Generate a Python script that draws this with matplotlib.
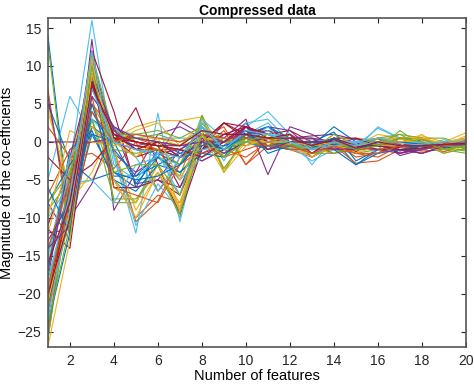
import numpy as np
import matplotlib
matplotlib.use('Agg')
import matplotlib.pyplot as plt

plt.rcParams['font.family'] = ['Liberation Sans', 'DejaVu Sans']

# Number of features on the x axis
features = list(range(1, 21))

# Coefficient curves (one list per curve)
s01 = [-26, -5, 3, 1, 0, -0.5, -1, -2, -0.5, 1, 0, -0.5, -0.8, 0.3, -3, -1, -0.5, -1, -0.5, -0.3]
s02 = [-20, -7, 9, -5, -10, -7, -8, -1, 1.5, -3, -0.5, -1, -2, -0.5, -2.8, -2.5, -1, -1.2, -1, -0.5]
s03 = [-15, -4, 10, 0.5, 2, 2.8, 2.8, 3.3, -4, 1, 0.5, -1, 0.5, 0, 0.5, 0.3, 0.5, 0.8, 0, 1.2]
s04 = [-12, -11.5, 13.5, -9, -4, -2, 2.7, 1, 0.5, 3, -4.3, 2, 1, -0.5, 0.5, -0.3, -1.5, -0.5, -0.8, -0.5]
s05 = [-18, -9, 11, -8, -8, -3, -10, 3.5, -2, 0.5, 1.5, 0, -1.5, -1, -1.5, -1, 1.5, -0.5, -1, -1.5]
s06 = [-24, -3, 16, -2, -12, 3.8, -10.5, 1, -1, 2, 4, 1, -3, 0.5, -1, 2, 0.5, -0.5, 0, 0.5]
s07 = [-23, -6, 12, 4, -6, -5, -7, 0, 2.5, 1, 1.5, 0.5, -0.5, 0.5, -1, -0.5, 0, -0.2, -0.5, 0.2]

s08 = [14, -10, 1, -4.5, -4.5, -1.5, -3, 1, 0, 0.5, -1, 0, -0.5, 2, 0, 0.5, -0.5, 0.3, -0.3, 0.5]
s09 = [7, -12, 2, -1, -10.5, -7.8, -2, 0.5, 2, -3, 0.5, 1, -2, 0, -2, -1.5, 0.5, -0.5, -1.3, -0.3]
s10 = [5, -8, -4, 2, -2, 0, -9, 2.5, -1, 1.5, -0.5, 0.5, 0.3, 0.2, -0.5, 1, 0.5, 0.5, -0.5, 0.8]
s11 = [-8, -13, 8, -1.5, -4, 1, 2, 0.5, 0, 2.5, -1, 0.5, 0.8, 1, 0.3, 0, -0.5, -0.3, -0.5, 0]
s12 = [13, -11, 3, -5, -8, -2, -4.5, 3.5, -4, 1, 0.5, -0.5, -1, 0.5, -1, 0, 0, -0.5, -0.8, -1.2]
s13 = [-5, 6, 1, -1.5, -11, -5.5, -9, 2, -2.5, 2.5, 3, 0, -2, 0, -0.5, 1.8, 0.5, 0, -0.3, 0]
s14 = [-11, -3, 7.5, 0, 4.5, -3, -9.5, -1, 2.5, 0.5, 2, 0, -0.5, 0.5, -1.3, 0.5, -0.5, -0.5, 0, -0.3]

s15 = [5, -2.5, -5, -4, -6, -1, -1, 0.5, -1.5, 0, -0.5, -1, 0, 1.3, -2.5, -1, -1, -1, -0.5, 0]
s16 = [-17, -4, 5, 1.5, 0.5, -0.5, -1, -2.5, -1, -2, 0, 0.5, -2, -0.5, -1.5, -2, -0.5, 0, -1, 0]
s17 = [-16, -3, 10, -6, -8, -3, -9, 3, -3.5, 0, 1, -1, -1.5, 0.5, -1.5, 0.5, 0.5, -0.5, -0.5, -0.2]
s18 = [-23, -5, 11, 0.5, -0.5, 0, -2, -1.5, -0.5, 1.5, -1, 1, -0.5, 0.2, -0.3, 0.5, -1.8, -1, -0.3, -0.5]
s19 = [-26, -7, 11.5, 1, 0.5, 1, 0, 1.5, -3.5, 0.5, 0, -0.8, -0.5, -0.8, -1, 0, 1, -0.5, -1, -1]
s20 = [-19, -6, 8, 1.5, 1, 0.5, 0.5, 0.5, -1, 1, 2.5, -0.5, -2.5, -1, -1, 0, 0, -0.5, 0.3, -0.5]
s21 = [-21, -5, 7, 2, 0, -0.5, -6, -0.5, 1, 2, 1, 1.5, 0, -0.5, -1, 0, -1.5, -0.8, -0.2, -0.5]

s22 = [-14, -7, 2, 0, -1, 0, -1.5, -1, 0.5, 0, -1, -0.5, -1, -0.5, -0.5, -0.5, -1, -1, -0.5, -0.8]
s23 = [2, -2, -1.5, -3.5, 0, -6.5, -3, -1, -0.5, 2, 0, 0.5, -0.5, 0, -0.5, -1, -1, -1.5, -0.5, 0]
s24 = [4, -6, -5, 0, 1.5, 2.5, -0.5, 2.5, 0, -0.5, 0.3, -0.3, -1, 0.5, -0.5, 0.5, 0.3, 0.5, -0.2, 0.5]
s25 = [6, -10, -5.5, 2, -5.5, -5, -1, -2.5, -1, 1, 2, 1.5, -1, -0.5, -0.5, -1, -1, -1.5, -0.7, -0.3]
s26 = [-9, -5, 3, -7.5, -7.5, -4, -9.5, 0.5, -1.5, 1, -1, 0, 0, 0, -0.5, -0.5, 0, 0.5, 0.5, -0.5]
s27 = [-16, -4, 6, 2, -1, -2, -3, 3, 0.5, 0, 1.5, -1, 0.5, -0.3, -0.3, -1.5, -0.5, -1, -0.5, 0]
s28 = [-22, -6, 8, 0.5, -0.5, -1, -2, 2, -1, 1.5, 0, 0.5, -1, -0.3, -0.5, -1, -0.7, -0.5, -0.5, -0.3]

s29 = [-17, -1, 1.5, -5, -6.5, -3, -4, -1, 0, 1, 2, 0.5, -0.3, -0.3, -1, -0.5, -0.3, -0.5, -0.8, -0.5]
s30 = [-7, -1, 0, 0, -1, -1, -5, 1, 0.5, -0.5, 0.5, 0, -0.5, -1.5, -1, -0.5, 0.5, 0.3, -0.3, -0.2]
s31 = [-12, -2, 2, -1, -9, -4, -8.5, 0.5, 0, 0.5, -0.5, -0.5, -2, -0.5, -1, -1, -0.5, 0, -1.5, -0.5]
s32 = [0, 0, 0, 0.5, 0.5, 0, -0.5, 0, -1.5, 0, 0.5, 0.5, 0.5, 0, 0, 0, -1.2, -0.5, 0, -0.2]
s33 = [-20, -5, 10, 1, 1, 1.5, 0.5, 2, -1, 0, -0.5, -0.5, -1.5, -1.5, -0.5, 0.5, -0.5, -0.3, -1.5, -0.8]
s34 = [-10, -5.5, -5, -8, -3, -2, -5, -2, -0.5, 0, 2, -1, 0, 0.2, 0, 0, -0.5, 0, -0.5, -0.5]
s35 = [-2, -5, -3, 0.5, -2, -1, -2, -1, 1, 1, 0.5, 0, -1, 0.5, 0.5, -0.5, -0.5, -0.3, 0, -0.5]

s36 = [-8, -3, 1, 0, -5.5, -2, -4, -1.5, -2, 2, -1.5, -0.5, 0, 0, -1, -0.5, -0.5, -0.5, -0.5, 0.3]
s37 = [-25, -6, 7, 0.5, 0, -1, -1, -1.5, 0, 1, -1, 0, -1.5, 0, -1, -1, -0.5, -1, -0.5, -0.3]
s38 = [-10, 1.5, 0, -0.5, 0.5, 0.5, -0.5, 0.5, 0.5, 0, 0, 0.5, -0.5, -0.5, -0.5, 0, 0, 0, 0, 0.5]
s39 = [-18, -2, 9, -6, -6, -5, -6, 0.5, -1, 2, 1, 0, -1, -0.8, -1, 0, -0.3, -0.5, -0.5, 0]
s40 = [-8, -4, 5, 0, 0.5, 0, -0.5, 1.5, 0, 0, -0.5, 1, -1, 1, -0.5, 0.5, 1, 0.5, -0.5, -0.3]
s41 = [-15, -2, 3, 0, -2, -6.5, -2, -1, -0.5, 1, 0.5, 0, -1.5, 0, 0, -0.5, 0, -0.2, -0.5, -0.3]
s42 = [-11.5, -14, 7, 1, -1, 0, -2, 0, 2.5, 2, 1, 0, 0, 0, -0.5, 0, -0.5, -0.3, -0.3, 0]

s43 = [-24, -12, 4, -1, -4.5, -3, -1.5, -0.5, -0.5, 0.5, 0.5, 0, -0.5, -1, -3, -1.5, -1, -0.5, -0.5, -0.3]
s44 = [-19, -8, 6, -6, -7, -8, -3, 0, -2, -1, 0, -1, -1, -1, -1, -0.5, 0, 0.5, -0.5, 0]
s45 = [-21, -9, 11, -5, -10, -4, -8, 1, -4, -0.5, 0.5, 0, -1, -0.5, -1.5, -0.5, -0.5, 1, -1, -0.5]
s46 = [-13, -8, 9, 1.5, -1, -1.5, -1, 1, 0, 2, 0, 0.5, 0.5, -1, -1, -0.5, -1, -1.5, -0.5, -0.3]
s47 = [-22, -10, 9, -1, -1.5, -1, -3, 2.5, -1, 0.5, 0.5, -0.5, -1, 0, -0.5, -0.3, 0.5, 0.3, -0.5, -0.8]
s48 = [-18, -7, 12, -3, -5, -1.5, -7, 2.5, -1, 1, 1, 0.5, -1, -0.5, 0, 0.5, 0, -0.5, -0.3, -0.2]
s49 = [-16, -8, 8, 0.5, 0, -0.5, -1, -2, 0, 2, 0.5, 1, -1.5, 0.5, -0.5, -0.5, -1, -0.8, -0.3, 0]

s50 = [-6, -12, 5, -4, -5, -4.5, -3, 0, -1, 1, -0.5, 0, -0.5, 0.5, -1, 0, 0, -0.3, -0.5, -0.3]
s51 = [-14, -5, 4, 0, 1, 0.5, 0, 1, 0.5, 0.5, -0.5, -0.5, -1.5, -0.5, -1.5, -1.5, -0.5, -0.5, -0.5, -0.3]
s52 = [-27, -13, 9, 0, -2, 0.5, -5, 1, -2, 0, 0, 0, -0.5, 0, -0.5, 0, 0, 0.5, -0.3, 0.3]
s53 = [-14, -11, 6, 2, 0.5, 0, -0.5, 0, 0, 1.5, -1, 0, 0, 0, -0.5, -1, -1.5, -1, -0.3, -0.3]
s54 = [-24, -11, 10, -4, -3, -3, -7, 1, -2, 0, 1, -0.3, -1, 0, -1, -0.5, 0.5, 0, -1, -0.5]
s55 = [-23, -9, 7, 0, -1, -1.5, -2, 2, -1, 1.5, 1, 0, -1, 0, -0.5, 0, -0.5, -0.3, 0, 0]
s56 = [-20, -10, 7.5, 1, 0, -0.5, -0.5, 1.5, 1, 1, 0.5, 0.5, -0.5, 0.3, -0.8, 0, -0.5, -0.5, -0.3, -0.2]

curves = [s01, s02, s03, s04, s05, s06, s07, s08, s09, s10, s11, s12, s13, s14,
          s15, s16, s17, s18, s19, s20, s21, s22, s23, s24, s25, s26, s27, s28,
          s29, s30, s31, s32, s33, s34, s35, s36, s37, s38, s39, s40, s41, s42,
          s43, s44, s45, s46, s47, s48, s49, s50, s51, s52, s53, s54, s55, s56]

# MATLAB default line colour order
matlab_colors = ['#0072BD', '#D95319', '#EDB120', '#7E2F8E',
                 '#77AC30', '#4DBEEE', '#A2142F']

fig = plt.figure(figsize=(4.74, 3.86), dpi=100)
ax = fig.add_axes([0.101, 0.101, 0.882, 0.852])

for i, c in enumerate(curves):
    ax.plot(features, c, color=matlab_colors[i % 7], linewidth=0.8)

ax.set_xlim(1, 20)
ax.set_ylim(-27, 16.3)
ax.set_xticks(range(2, 21, 2))
ax.set_yticks(range(-25, 16, 5))
ax.tick_params(direction='in', length=3.5, width=0.8, labelsize=10,
               top=True, right=True, colors='#262626', pad=5)
for sp in ax.spines.values():
    sp.set_color('#555555')
    sp.set_linewidth(1.2)

ax.set_title('Compressed data', fontsize=10, fontweight='bold', pad=2)
ax.set_xlabel('Number of features', fontsize=10.5, labelpad=1)
ax.set_ylabel('Magnitude of the co-efficients', fontsize=10.5, labelpad=2)

fig.savefig('out.png', dpi=100)
